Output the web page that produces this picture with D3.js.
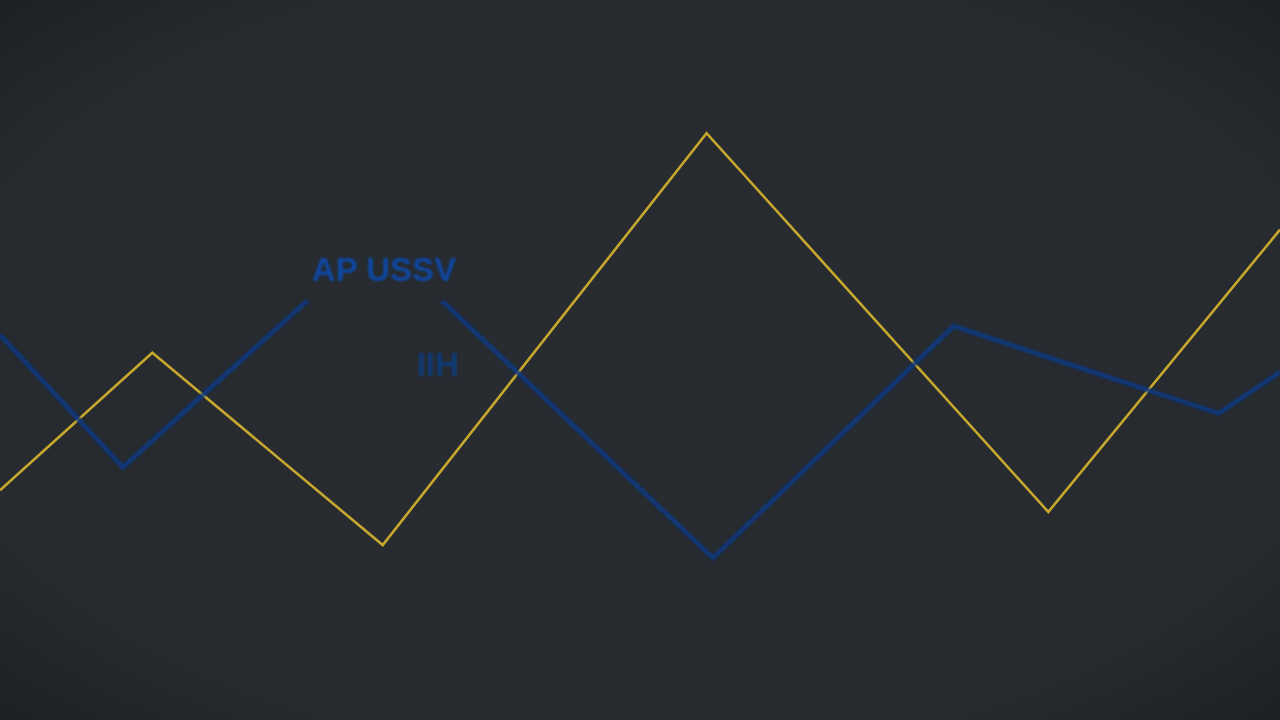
<!DOCTYPE html>
<html><head><meta charset="utf-8">
<script src="https://cdn.jsdelivr.net/npm/d3@7"></script>
<style>html,body{margin:0;padding:0;background:#272a2e;overflow:hidden}</style>
</head><body>
<svg id="c" width="1280" height="720"></svg>
<script>
// Data (x on 0–100 horizontal scale, y on 0–100 vertical scale)
const goldX = [0, 11.9, 29.9, 55.2, 81.9, 100];
const goldY = [31.9, 51.0, 24.3, 81.5, 28.9, 68.1];
const blueX = [0, 9.6, 29.4, 55.7, 74.5, 95.2, 100];
const blueY = [53.5, 35.1, 66.9, 22.5, 54.7, 42.6, 48.3];
const labels = ["AP USSV", "IIH"];
const labelX = [30.0, 34.2];
const labelY = [61.0, 47.8];

const W = 1280, H = 720;
const svg = d3.select("#c");
const x = d3.scaleLinear().domain([0, 100]).range([0, W]);
const y = d3.scaleLinear().domain([0, 100]).range([H, 0]);

const defs = svg.append("defs");
const rg = defs.append("radialGradient").attr("id","vig").attr("cx","50%").attr("cy","50%").attr("r","75%");
rg.append("stop").attr("offset","0%").attr("stop-color","#282b2f");
rg.append("stop").attr("offset","72%").attr("stop-color","#272a2e");
rg.append("stop").attr("offset","100%").attr("stop-color","#1b1e21");
svg.append("rect").attr("width",W).attr("height",H).attr("fill","url(#vig)");

const glow = defs.append("filter").attr("id","glow").attr("x","-10%").attr("y","-10%").attr("width","120%").attr("height","120%");
glow.append("feGaussianBlur").attr("stdDeviation",1.2);

// mask: hide blue line behind label area
const mask = defs.append("mask").attr("id","gap").attr("maskUnits","userSpaceOnUse").attr("x",0).attr("y",0).attr("width",W).attr("height",H);
mask.append("rect").attr("width",W).attr("height",H).attr("fill","white");
mask.append("rect").attr("x",x(23.9)).attr("y",y(80)).attr("width",x(34.7)-x(23.9)).attr("height",y(58.2)-y(80)).attr("fill","black");

const line = d3.line().x(d=>x(d[0])).y(d=>y(d[1]));

const gold = d3.zip(goldX, goldY);
const blue = d3.zip(blueX, blueY);

svg.append("path").datum(gold).attr("d",line).attr("fill","none")
  .attr("stroke","#c6a82e").attr("stroke-width",2.6).attr("stroke-linejoin","miter");

const bg = svg.append("g").attr("mask","url(#gap)");
bg.append("path").datum(blue).attr("d",line).attr("fill","none")
  .attr("stroke","#093b86").attr("stroke-width",4.5).attr("opacity",0.9).attr("filter","url(#glow)");

svg.append("text").attr("x",x(labelX[0])).attr("y",y(labelY[0]))
  .attr("text-anchor","middle").attr("font-family","Liberation Sans, Arial, sans-serif")
  .attr("font-weight","bold").attr("font-size",33).attr("fill","#0c47a0").attr("filter","url(#glow)")
  .text(labels[0]);
svg.append("text").attr("x",x(labelX[1])).attr("y",y(labelY[1]))
  .attr("text-anchor","middle").attr("font-family","Liberation Sans, Arial, sans-serif")
  .attr("font-weight","bold").attr("font-size",33).attr("fill","#113a74").attr("filter","url(#glow)")
  .text(labels[1]);
</script>
</body></html>
